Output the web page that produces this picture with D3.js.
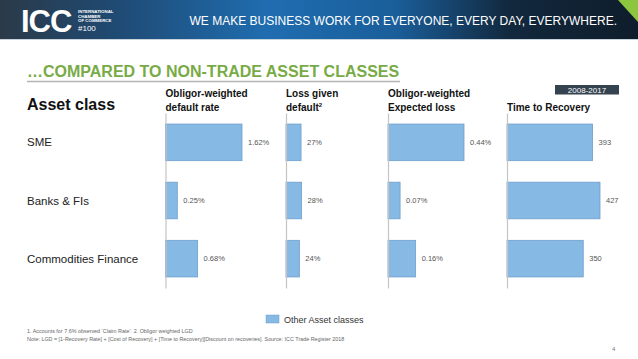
<!DOCTYPE html>
<html>
<head>
<meta charset="utf-8">
<script src="https://cdn.jsdelivr.net/npm/d3@7"></script>
<style>
  body { margin: 0; background: #fff; }
  svg { display: block; font-family: "Liberation Sans", Arial, sans-serif; }
</style>
</head>
<body>
<script>
// values
const categories = ["SME", "Banks & FIs", "Commodities Finance"];
const defaultRate = [1.62, 0.25, 0.68];
const lossGivenDefault = [27, 28, 24];
const expectedLoss = [0.44, 0.07, 0.16];
const timeToRecovery = [393, 427, 350];

const W = 638, H = 359;
const svg = d3.select("body").append("svg").attr("width", W).attr("height", H);

// ---- banner ----
const defs = svg.append("defs");
const grad = defs.append("linearGradient").attr("id", "bannerGrad");
grad.selectAll("stop")
  .data([[0, "#2b3a48"], [0.18, "#1f4a73"], [0.42, "#1f6db0"], [0.62, "#1a5e9a"], [0.8, "#12283d"], [1, "#0f1d2b"]])
  .enter().append("stop")
  .attr("offset", d => d[0]).attr("stop-color", d => d[1]);

svg.append("rect").attr("width", W).attr("height", 39).attr("fill", "url(#bannerGrad)");
svg.append("path").attr("d", "M618,0 L638,0 L638,22 Z").attr("fill", "#8cc63f");
svg.append("rect").attr("y", 39).attr("width", W).attr("height", 1).attr("fill", "#c9d3dc");

svg.append("text").attr("x", 21).attr("y", 32)
  .attr("fill", "#fff").attr("font-weight", "bold").attr("font-size", 31)
  .attr("letter-spacing", -1).text("ICC");
["INTERNATIONAL", "CHAMBER", "OF COMMERCE"].forEach((t, i) => {
  svg.append("text").attr("x", 78).attr("y", 13 + i * 4.6)
    .attr("fill", "#fff").attr("font-size", 4.4).attr("font-weight", "bold").text(t);
});
svg.append("text").attr("x", 78).attr("y", 31).attr("fill", "#fff")
  .attr("font-size", 8).text("#100");

svg.append("text").attr("x", 617).attr("y", 25).attr("text-anchor", "end")
  .attr("fill", "#fff").attr("font-size", 12)
  .text("WE MAKE BUSINESS WORK FOR EVERYONE, EVERY DAY, EVERYWHERE.");

// ---- title ----
svg.append("text").attr("x", 27).attr("y", 77)
  .attr("fill", "#78ab46").attr("font-weight", "bold").attr("font-size", 16)
  .text("\u2026COMPARED TO NON-TRADE ASSET CLASSES");
svg.append("line").attr("x1", 27).attr("x2", 400).attr("y1", 81.5).attr("y2", 81.5)
  .attr("stroke", "#b5b5b5").attr("stroke-width", 1.5);

svg.append("text").attr("x", 27).attr("y", 110)
  .attr("fill", "#111").attr("font-weight", "bold").attr("font-size", 16)
  .text("Asset class");

// period tag
svg.append("rect").attr("x", 555).attr("y", 85).attr("width", 64).attr("height", 9.5).attr("fill", "#35424f");
svg.append("text").attr("x", 587).attr("y", 92.5).attr("text-anchor", "middle")
  .attr("fill", "#fff").attr("font-size", 8).text("2008-2017");

// ---- panels ----
const panels = [
  { x: 165.5, barMax: 76.5, values: defaultRate, fmt: d => d.toFixed(2) + "%", title: ["Obligor-weighted", "default rate"] },
  { x: 286, barMax: 15.6, values: lossGivenDefault, fmt: d => d + "%", title: ["Loss given", "default"], sup: "2" },
  { x: 388, barMax: 76, values: expectedLoss, fmt: d => d.toFixed(2) + "%", title: ["Obligor-weighted", "Expected loss"] },
  { x: 507, barMax: 93, values: timeToRecovery, fmt: d => d, title: ["", "Time to Recovery"] }
];

const y = d3.scaleBand().domain(categories).range([113, 288]).paddingInner(0.37).paddingOuter(0.19);

panels.forEach(p => {
  const x = d3.scaleLinear().domain([0, d3.max(p.values)]).range([0, p.barMax]);
  const g = svg.append("g").attr("transform", `translate(${p.x},0)`);

  p.title.forEach((t, i) => {
    if (!t) return;
    const tt = g.append("text").attr("x", 0).attr("y", 97 + i * 14)
      .attr("fill", "#111").attr("font-weight", "bold").attr("font-size", 10).text(t);
    if (i === 1 && p.sup) tt.append("tspan").attr("font-size", 6).attr("dy", -4).text(p.sup);
  });

  g.selectAll("rect.bar").data(categories).enter().append("rect")
    .attr("class", "bar")
    .attr("x", 0)
    .attr("y", d => y(d))
    .attr("width", (d, i) => x(p.values[i]))
    .attr("height", y.bandwidth())
    .attr("fill", "#86b9e4").attr("stroke", "#6e9fcc").attr("stroke-width", 0.8);

  g.selectAll("text.val").data(categories).enter().append("text")
    .attr("class", "val")
    .attr("x", (d, i) => x(p.values[i]) + 6)
    .attr("y", d => y(d) + y.bandwidth() / 2 + 2.5)
    .attr("fill", "#555").attr("font-size", 7.5)
    .text((d, i) => p.fmt(p.values[i]));

  const axisG = g.append("g");
  axisG.call(d3.axisLeft(y).tickSize(0).tickFormat(""))
    .call(a => a.select(".domain").attr("stroke", "#c4c4c4").attr("stroke-width", 1.2));
});

// row labels
svg.selectAll("text.cat").data(categories).enter().append("text")
  .attr("class", "cat")
  .attr("x", 27).attr("y", d => y(d) + y.bandwidth() / 2 + 4)
  .attr("fill", "#222").attr("font-size", 11.5)
  .text(d => d);

// ---- legend ----
svg.append("rect").attr("x", 266).attr("y", 315).attr("width", 13).attr("height", 8)
  .attr("fill", "#86b9e4").attr("stroke", "#6e9fcc").attr("stroke-width", 0.5);
svg.append("text").attr("x", 284).attr("y", 322.5).attr("fill", "#333").attr("font-size", 9)
  .text("Other Asset classes");

// ---- footnotes ----
svg.append("text").attr("x", 27).attr("y", 333).attr("fill", "#666").attr("font-size", 5.4)
  .text("1. Accounts for 7.6% observed \u2018Claim Rate\u2019. 2. Obligor weighted LGD");
svg.append("text").attr("x", 27).attr("y", 341).attr("fill", "#666").attr("font-size", 5.4)
  .text("Note: LGD = [1-Recovery Rate] + [Cost of Recovery] + [Time to Recovery][Discount on recoveries]. Source: ICC Trade Register 2018");
svg.append("text").attr("x", 612).attr("y", 351).attr("fill", "#777").attr("font-size", 6).text("4");
</script>
</body>
</html>
